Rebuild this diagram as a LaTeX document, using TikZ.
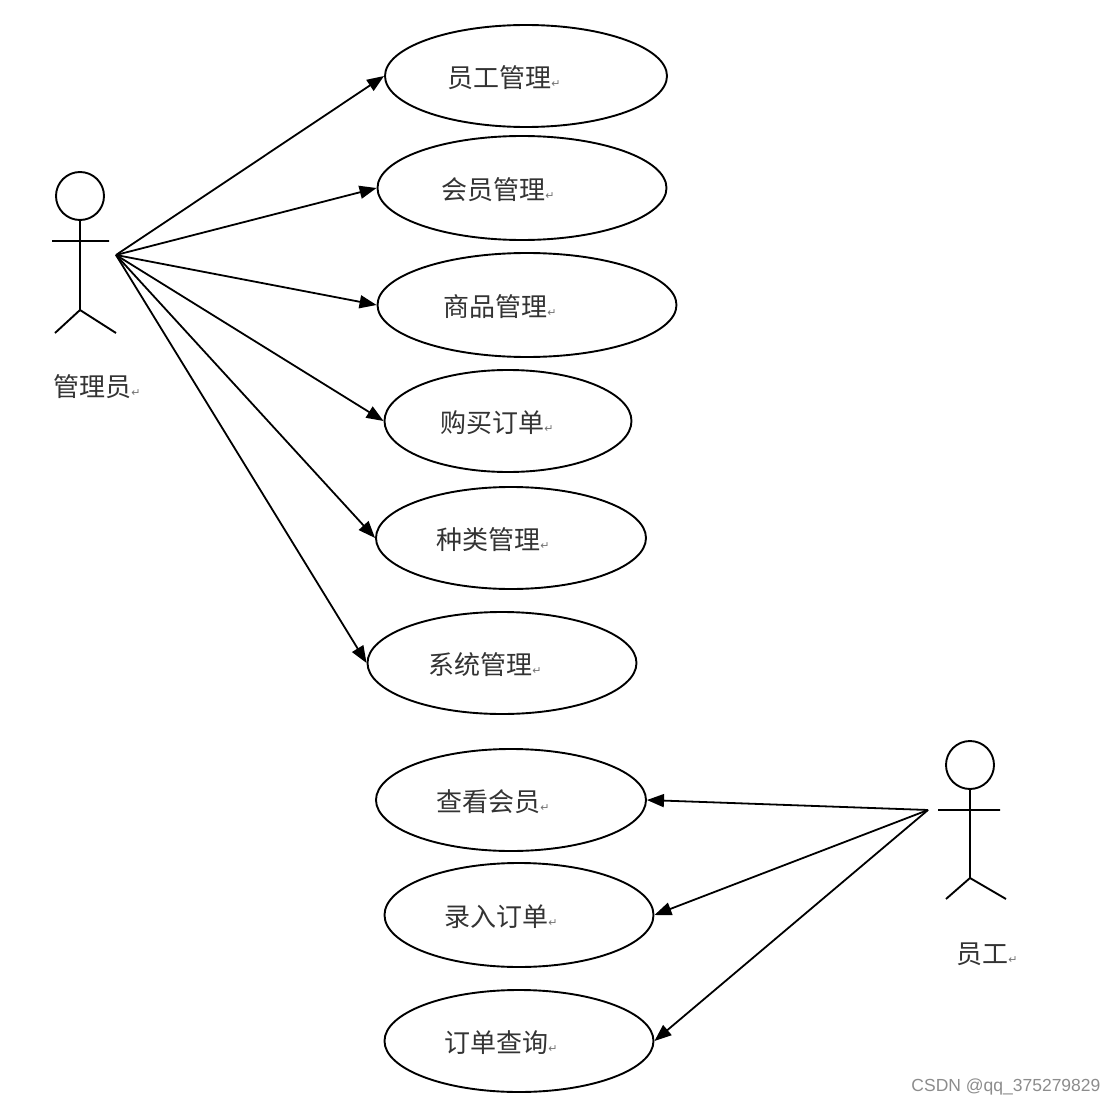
\documentclass[tikz,border=0pt]{standalone}
\usepackage{fontspec}
\newfontfamily\cjk{Noto Sans CJK SC}
\newfontfamily\symf{DejaVu Sans}
\setsansfont{Liberation Sans}
\usetikzlibrary{shapes.geometric,arrows.meta}
\newcommand{\ret}{{\symf\fontsize{11}{11}\selectfont\textcolor{black!55}{↵}}}
\tikzset{
  usecase/.style={ellipse,draw,line width=1.9pt,inner sep=0pt},
  txt/.style={font=\cjk\fontsize{26}{26}\selectfont,text=black!80,yshift=-2pt},
  assoc/.style={-{Triangle[length=17pt,width=13pt]},line width=1.8pt},
}
\begin{document}
\begin{tikzpicture}[x=1pt,y=-1pt]
  \useasboundingbox (0,0) rectangle (1117,1105);
  % actors
  \draw[line width=1.9pt] (80,196) circle[radius=24pt] (80,220)--(80,310) (52,241)--(109,241) (55,333)--(80,310)--(116,333);
  \coordinate (adm) at (116,255);
  \node[txt] (admlbl) at (97,385) {管理员\ret};
  \draw[line width=1.9pt] (970,765) circle[radius=24pt] (970,789)--(970,878) (938,810)--(1000,810) (946,899)--(970,878)--(1006,899);
  \coordinate (emp) at (928,810);
  \node[txt] (emplbl) at (987,952) {员工\ret};
  % use cases
  \node[usecase,minimum width=282,minimum height=102,label={[txt,xshift=-22]center:员工管理\ret}] (yg) at (526,76) {};
  \node[usecase,minimum width=289,minimum height=104,label={[txt,xshift=-24]center:会员管理\ret}] (hy) at (522,188) {};
  \node[usecase,minimum width=299,minimum height=104,label={[txt,xshift=-27]center:商品管理\ret}] (sp) at (527,305) {};
  \node[usecase,minimum width=247,minimum height=102,label={[txt,xshift=-11]center:购买订单\ret}] (gm) at (508,421) {};
  \node[usecase,minimum width=270,minimum height=102,label={[txt,xshift=-18]center:种类管理\ret}] (zl) at (511,538) {};
  \node[usecase,minimum width=269,minimum height=102,label={[txt,xshift=-17]center:系统管理\ret}] (xt) at (502,663) {};
  \node[usecase,minimum width=270,minimum height=102,label={[txt,xshift=-18]center:查看会员\ret}] (ck) at (511,800) {};
  \node[usecase,minimum width=269,minimum height=104,label={[txt,xshift=-18]center:录入订单\ret}] (lr) at (519,915) {};
  \node[usecase,minimum width=269,minimum height=102,label={[txt,xshift=-18]center:订单查询\ret}] (cx) at (519,1041) {};
  % associations
  \foreach \uc in {yg,hy,sp,gm,zl,xt}
    \draw[assoc] (adm) -- (\uc.west);
  \foreach \uc in {ck,lr,cx}
    \draw[assoc] (emp) -- (\uc.east);
  \node[font=\sffamily\fontsize{17.5}{17.5}\selectfont,text=black!45,anchor=east] (wm) at (1104,1087) {CSDN @qq\_375279829};
\end{tikzpicture}
\end{document}
